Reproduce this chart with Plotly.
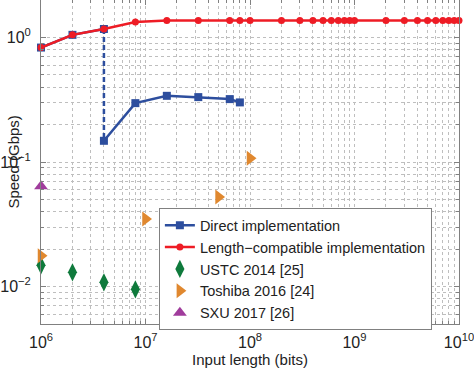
import plotly.graph_objects as go

# ---- data ----
lc_x = [1e6, 2e6, 4e6, 8e6, 1.6e7, 3.2e7, 6.4e7, 8e7, 1e8,
        2e8, 3e8, 4e8, 5e8, 6e8, 7e8, 8e8, 9e8, 1e9,
        2e9, 3e9, 4e9, 5e9, 6e9, 7e9, 8e9, 9e9, 1e10]
lc_y = [0.83, 1.05, 1.17, 1.33, 1.37, 1.37, 1.37, 1.37, 1.37,
        1.37, 1.37, 1.37, 1.37, 1.37, 1.37, 1.37, 1.37, 1.37,
        1.37, 1.37, 1.37, 1.37, 1.37, 1.37, 1.37, 1.37, 1.37]

direct_x = [1e6, 2e6, 4e6, 4e6, 8e6, 1.6e7, 3.2e7, 6.4e7, 8e7]
direct_y = [0.83, 1.05, 1.17, 0.148, 0.297, 0.340, 0.332, 0.320, 0.301]

ustc_x = [1e6, 2e6, 4e6, 8e6]
ustc_y = [0.0148, 0.0130, 0.0108, 0.0095]

toshiba_x = [1e6, 1e7, 5e7, 1e8]
toshiba_y = [0.0177, 0.0348, 0.0523, 0.107]

sxu_x = [1e6]
sxu_y = [0.064]

x_tickvals = [1e6, 1e7, 1e8, 1e9, 1e10]
x_ticktext = ["10<sup>6</sup>", "10<sup>7</sup>", "10<sup>8</sup>", "10<sup>9</sup>", "10<sup>10</sup>"]
y_tickvals = [1e-2, 1e-1, 1e0]
y_ticktext = ["10<sup>−2</sup>", "10<sup>−1</sup>", "10<sup>0</sup>"]

BLUE = "#2D4E9E"
RED = "#EE1C25"
GREEN = "#0F7A3C"
ORANGE = "#E0882F"
PURPLE = "#A03C9C"
FONT = "Liberation Sans, Arial, sans-serif"

fig = go.Figure()

sq = dict(symbol="square", size=8, color=BLUE)
# direct implementation: solid (shared part), dashed drop, solid rest
fig.add_trace(go.Scatter(x=direct_x[0:3], y=direct_y[0:3], mode="lines+markers",
                         line=dict(color=BLUE, width=2.5), marker=sq, showlegend=False,
                         cliponaxis=False))
fig.add_trace(go.Scatter(x=direct_x[2:4], y=direct_y[2:4], mode="lines",
                         line=dict(color=BLUE, width=2.5, dash="5px,3px"), showlegend=False))
fig.add_trace(go.Scatter(x=direct_x[3:], y=direct_y[3:], mode="lines+markers",
                         name="Direct implementation",
                         line=dict(color=BLUE, width=2.5), marker=sq))
fig.add_trace(go.Scatter(x=lc_x, y=lc_y, mode="lines+markers",
                         name="Length−compatible implementation",
                         line=dict(color=RED, width=2.5),
                         marker=dict(symbol="circle", size=7, color=RED), cliponaxis=False))
fig.add_trace(go.Scatter(x=ustc_x, y=ustc_y, mode="markers", name="USTC 2014 [25]",
                         marker=dict(symbol="diamond-tall", size=13, color=GREEN), cliponaxis=False))
fig.add_trace(go.Scatter(x=toshiba_x, y=toshiba_y, mode="markers", name="Toshiba 2016 [24]",
                         marker=dict(symbol="triangle-right", size=13, color=ORANGE), cliponaxis=False))
fig.add_trace(go.Scatter(x=sxu_x, y=sxu_y, mode="markers", name="SXU 2017 [26]",
                         marker=dict(symbol="triangle-up", size=12, color=PURPLE), cliponaxis=False))

grid = dict(showgrid=True, gridcolor="#BEBEBE", griddash="dot", gridwidth=1)

fig.update_xaxes(type="log", range=[5.9999, 10.0001],
                 tickvals=x_tickvals, ticktext=x_ticktext,
                 ticks="inside", ticklen=5, tickcolor="#808080",
                 showline=True, linecolor="#808080", linewidth=1, mirror="ticks",
                 ticklabelstandoff=4, ticklabeloverflow="allow",
                 tickfont=dict(size=16, color="#222222", family=FONT),
                 title=dict(text="Input length (bits)", font=dict(size=15, color="#222222", family=FONT),
                            standoff=4),
                 minor=dict(ticks="inside", ticklen=3, tickcolor="#808080", dtick="D1", **grid),
                 zeroline=False, **grid)
fig.update_yaxes(type="log", range=[-2.30103, 0.30103],
                 tickvals=y_tickvals, ticktext=y_ticktext,
                 ticks="inside", ticklen=5, tickcolor="#808080",
                 showline=True, linecolor="#808080", linewidth=1, mirror="ticks",
                 ticklabelstandoff=6,
                 tickfont=dict(size=16, color="#222222", family=FONT),
                 minor=dict(ticks="inside", ticklen=3, tickcolor="#808080", dtick="D1", **grid),
                 zeroline=False, **grid)

fig.add_annotation(text="Speed (Gbps)", xref="paper", yref="paper",
                   x=-0.068, y=0.5, xanchor="center", yanchor="middle",
                   textangle=-90, showarrow=False,
                   font=dict(size=15, color="#222222", family=FONT))

fig.update_layout(
    width=474, height=368,
    margin=dict(l=41, r=14.5, t=0, b=44, autoexpand=False),
    paper_bgcolor="white", plot_bgcolor="white",
    font=dict(family=FONT, color="#222222"),
    legend=dict(x=0.282, y=0.357, xanchor="left", yanchor="top",
                bgcolor="white", bordercolor="#808080", borderwidth=1,
                font=dict(size=14.5, color="#222222", family=FONT),
                itemwidth=30, tracegroupgap=0),
)

fig.write_html("out.html", config={"displayModeBar": False},
               post_script="document.body.style.margin='0';document.body.style.overflow='hidden';")
